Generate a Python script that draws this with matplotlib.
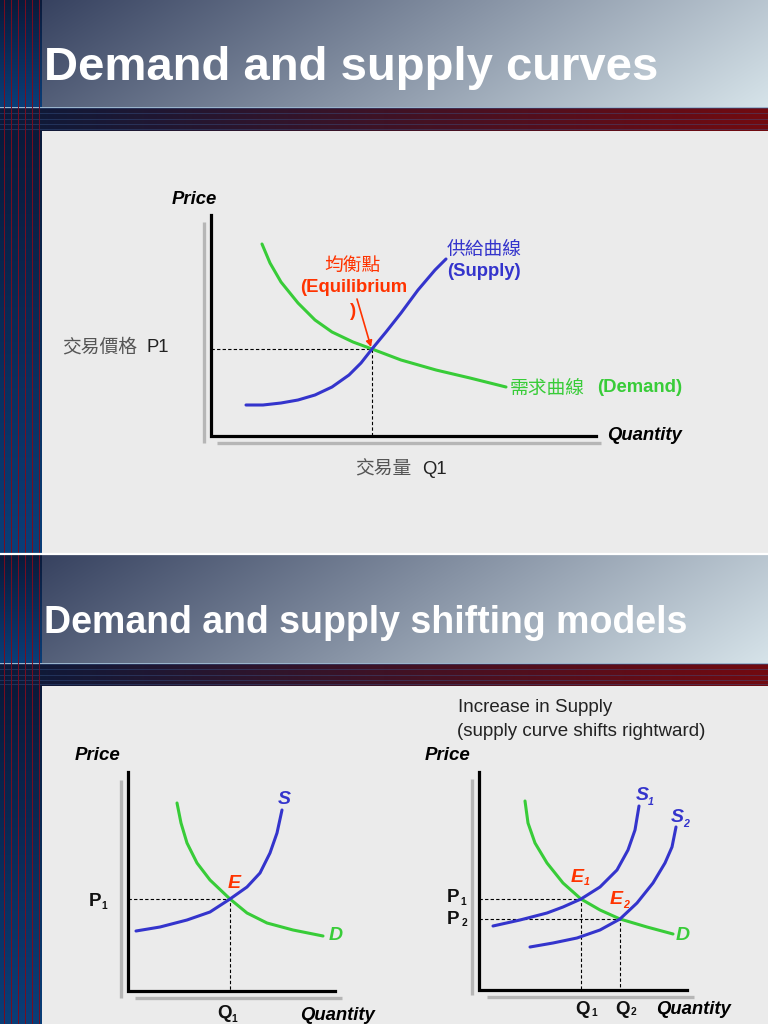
import numpy as np
import matplotlib
matplotlib.use('Agg')
import matplotlib.pyplot as plt
from matplotlib.colors import to_rgb

plt.rcParams['font.family'] = ['Liberation Sans', 'Noto Sans CJK TC', 'DejaVu Sans']

W, H = 768, 1024

# ---- data (quantity / price measured from each diagram's origin) ----
# slide 1: single market
demand1_q = [51, 59, 70, 87, 104, 121, 142, 161, 190, 225, 259, 295]
demand1_p = [192, 173, 154, 133, 116, 104, 94, 87, 76, 66, 58, 49]
supply1_q = [35, 52, 70, 87, 104, 121, 138, 150, 161, 175, 190, 207, 224, 235]
supply1_p = [31, 31, 33, 36, 41, 49, 61, 73, 87, 104, 123, 146, 166, 177]
eq1 = (161, 87)

# slide 2 left: equilibrium
demandL_q = [49, 53, 59, 69, 82, 102, 119, 139, 165, 195]
demandL_p = [188, 168, 148, 128, 111, 92, 78, 68, 61, 55]
supplyL_q = [8, 32, 59, 82, 102, 119, 132, 142, 149, 154]
supplyL_p = [60, 64, 71, 79, 92, 104, 118, 138, 158, 181]
eqL = (102, 92)

# slide 2 right: increase in supply
demandR_q = [46, 49, 56, 68, 84, 102, 121, 141, 168, 194]
demandR_p = [189, 167, 147, 127, 107, 91, 80, 71, 63, 56]
s1_q = [14, 41, 68, 84, 102, 121, 138, 149, 156, 160]
s1_p = [64, 70, 77, 83, 91, 103, 120, 140, 160, 184]
s2_q = [51, 74, 98, 121, 141, 158, 174, 186, 193, 197]
s2_p = [43, 47, 52, 60, 71, 87, 107, 127, 143, 163]
eqR = [(102, 91), (141, 71)]

GREEN = '#38cc38'
BLUE = '#3434cc'
RED = '#ff3300'
SHADOW = '#b6b6b6'
CJK = ['Noto Sans CJK TC', 'Liberation Sans']

fig = plt.figure(figsize=(W / 100, H / 100), dpi=100)
bg = fig.add_axes([0, 0, 1, 1])
bg.set_xlim(0, W)
bg.set_ylim(H, 0)
bg.axis('off')
bg.add_patch(plt.Rectangle((0, 0), W, H, color='#ebebeb', zorder=0))


def lerp(c0, c1, t):
    c0, c1 = np.array(to_rgb(c0)), np.array(to_rgb(c1))
    return c0 + (c1 - c0) * t[..., None]


def title_band(y0, y1):
    X, Y = np.meshgrid(np.linspace(0, 1, 400), np.linspace(0, 1, 60))
    t = np.clip(0.82 * X + 0.18 * Y, 0, 1)
    bg.imshow(lerp('#374260', '#d6e3e9', t), extent=[42, W, y1, y0],
              aspect='auto', zorder=1, interpolation='bilinear')


def stripe(y0, y1):
    n = int(y1 - y0)
    X, Y = np.meshgrid(np.linspace(0, 1, 400), np.arange(n))
    img = lerp('#0b1a3a', '#720a10', X)
    for r in [1, 6, 12, 17, n - 2]:
        img[r] = img[r] * 0.6 + np.array(to_rgb('#3a5a90')) * 0.4
    img[0] = np.array(to_rgb('#9ab4cc'))
    bg.imshow(img, extent=[0, W, y1, y0], aspect='auto', zorder=2,
              interpolation='nearest')


def side_strip(y0, y1):
    Y = np.linspace(0, 1, 100)[:, None] * np.ones((1, 10))
    bg.imshow(lerp('#0a1a3a', '#0a3e78', Y), extent=[0, 42, y1, y0],
              aspect='auto', zorder=1, interpolation='bilinear')


for a, b in [(0, 107), (131, 553), (555, 663), (686, H)]:
    side_strip(a, b)
title_band(0, 107)
title_band(555, 663)
stripe(107, 131)
stripe(663, 686)
for x in [4, 11, 17.5, 24.5, 31.5, 39]:
    bg.plot([x, x], [0, H], color='#7a0c20', lw=0.7, zorder=3)
bg.plot([0, W], [554, 554], color='white', lw=1.6, zorder=4)

bg.text(44, 80, 'Demand and supply curves', color='white', fontsize=34,
        weight='bold', va='baseline', zorder=5)
bg.text(44, 633, 'Demand and supply shifting models', color='white',
        fontsize=27, weight='bold', va='baseline', zorder=5)


def diagram(ox, oy, top, right, shadow):
    ax = fig.add_axes([0, 0, 1, 1], facecolor='none')
    ax.set_xlim(-ox, W - ox)
    ax.set_ylim(oy - H, oy)
    ax.axis('off')
    sv, sh = shadow
    ax.plot([-7, -7], [sv[0], sv[1]], color=SHADOW, lw=2.4, solid_capstyle='butt')
    ax.plot([sh[0], sh[1]], [-7, -7], color=SHADOW, lw=2.4, solid_capstyle='butt')
    ax.plot([0, 0, right], [top, 0, 0], color='black', lw=2.3,
            solid_joinstyle='miter')
    return ax


def guides(ax, q, p):
    ax.plot([0, q, q], [p, p, 0], color='black', lw=0.8, ls=(0, (3, 2)))


def sub_label(ax, x, y, main, sub, color, size=13.5, italic=True, dx=10, dy=-5):
    st = 'italic' if italic else 'normal'
    ax.text(x, y, main, color=color, fontsize=size, weight='bold', style=st,
            ha='center', va='center')
    ax.text(x + dx, y + dy, sub, color=color, fontsize=size * 0.55,
            weight='bold', style=st, ha='center', va='center')


# ---- slide 1 ----
ax1 = diagram(211, 436, 221, 385, ((-7, 214), (6, 390)))
guides(ax1, *eq1)
ax1.plot(demand1_q, demand1_p, color=GREEN, lw=2.2, solid_capstyle='round')
ax1.plot(supply1_q, supply1_p, color=BLUE, lw=2.2, solid_capstyle='round')
ax1.text(-17, 237, 'Price', fontsize=13.3, weight='bold', style='italic',
         ha='center', va='center')
ax1.text(396, 1, 'Quantity', fontsize=13.3, weight='bold', style='italic',
         ha='left', va='center')
ax1.text(141, 171, '均衡點', color=RED, fontsize=13.5, family=CJK,
         ha='center', va='center')
ax1.text(143, 149, '(Equilibrium', color=RED, fontsize=13.3, weight='bold',
         ha='center', va='center')
ax1.text(142, 125, ')', color=RED, fontsize=13.3, weight='bold',
         ha='center', va='center')
ax1.annotate('', xy=(160, 89), xytext=(146, 137),
             arrowprops=dict(arrowstyle='-|>', color=RED, lw=1.2,
                             mutation_scale=9, shrinkA=0, shrinkB=0))
ax1.text(236, 187, '供給曲線', color=BLUE, fontsize=13.5, family=CJK,
         ha='left', va='center')
ax1.text(236, 165, '(Supply)', color=BLUE, fontsize=13.3, weight='bold',
         ha='left', va='center')
ax1.text(299, 48, '需求曲線', color=GREEN, fontsize=13.5, family=CJK,
         ha='left', va='center')
ax1.text(386, 48, '(Demand)', color=GREEN, fontsize=13.3, weight='bold',
         ha='left', va='center')
ax1.text(-74, 89, '交易價格', color='#555555', fontsize=13.5, family=CJK,
         ha='right', va='center')
ax1.text(-65, 89, 'P1', color='#222222', fontsize=13.3, ha='left', va='center')
ax1.text(200, -33, '交易量', color='#555555', fontsize=13.5, family=CJK,
         ha='right', va='center')
ax1.text(211, -33, 'Q1', color='#222222', fontsize=13.3, ha='left', va='center')

# ---- slide 2 left ----
axL = diagram(128, 991, 219, 207, ((-7, 211), (7, 214)))
guides(axL, *eqL)
axL.plot(demandL_q, demandL_p, color=GREEN, lw=2.2, solid_capstyle='round')
axL.plot(supplyL_q, supplyL_p, color=BLUE, lw=2.2, solid_capstyle='round')
axL.text(-30, 235, 'Price', fontsize=13.5, weight='bold', style='italic',
         ha='center', va='center')
axL.text(172, -24, 'Quantity', fontsize=13.3, weight='bold', style='italic',
         ha='left', va='center')
sub_label(axL, -33, 90, 'P', '1', '#111111', italic=False, dx=9, dy=-5)
sub_label(axL, 96, -23, 'Q', '1', '#111111', italic=False, dx=10, dy=-5)
axL.text(156, 191, 'S', color=BLUE, fontsize=14, weight='bold', style='italic',
         ha='center', va='center')
axL.text(208, 55, 'D', color=GREEN, fontsize=14, weight='bold', style='italic',
         ha='center', va='center')
axL.text(106, 107, 'E', color=RED, fontsize=14, weight='bold', style='italic',
         ha='center', va='center')

# ---- slide 2 right ----
bg.text(458, 707, 'Increase in Supply', fontsize=13.5, color='#222222',
        ha='left', va='center', zorder=5)
bg.text(457, 731, '(supply curve shifts rightward)', fontsize=13.5,
        color='#222222', ha='left', va='center', zorder=5)
axR = diagram(479, 990, 218, 208, ((-5, 211), (8, 215)))
for q, p in eqR:
    guides(axR, q, p)
axR.plot(demandR_q, demandR_p, color=GREEN, lw=2.2, solid_capstyle='round')
axR.plot(s1_q, s1_p, color=BLUE, lw=2.2, solid_capstyle='round')
axR.plot(s2_q, s2_p, color=BLUE, lw=2.2, solid_capstyle='round')
axR.text(-31, 235, 'Price', fontsize=13.5, weight='bold', style='italic',
         ha='center', va='center')
axR.text(177, -20, 'Quantity', fontsize=13.3, weight='bold', style='italic',
         ha='left', va='center')
sub_label(axR, -26, 92, 'P', '1', '#111111', italic=False, dx=10, dy=-4)
sub_label(axR, -26, 71, 'P', '2', '#111111', italic=False, dx=11, dy=-4)
sub_label(axR, 104, -19, 'Q', '1', '#111111', italic=False, dx=11, dy=-4)
sub_label(axR, 143, -19, 'Q', '2', '#111111', italic=False, dx=11, dy=-3)
sub_label(axR, 163, 194, 'S', '1', BLUE, size=14, dx=9, dy=-6)
sub_label(axR, 198, 173, 'S', '2', BLUE, size=14, dx=9, dy=-7)
sub_label(axR, 98, 113, 'E', '1', RED, size=14, dx=10, dy=-5)
sub_label(axR, 137, 91, 'E', '2', RED, size=14, dx=10, dy=-6)
axR.text(204, 55, 'D', color=GREEN, fontsize=14, weight='bold', style='italic',
         ha='center', va='center')

fig.savefig('out.png', dpi=100)
